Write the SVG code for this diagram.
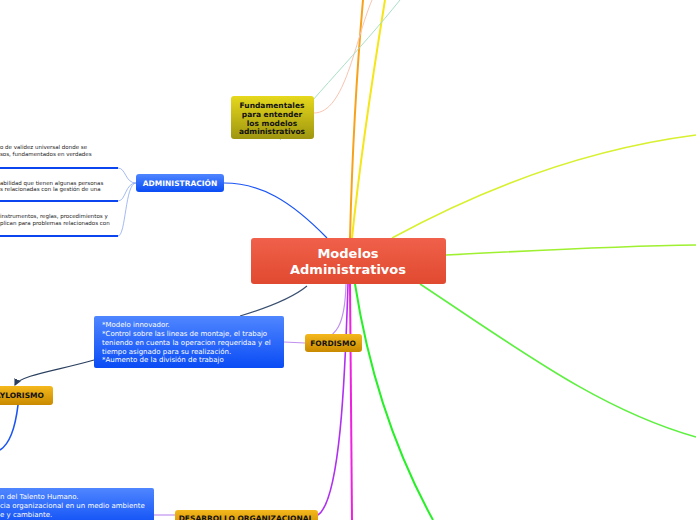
<svg xmlns="http://www.w3.org/2000/svg" width="696" height="520" viewBox="0 0 696 520">
<defs>
<linearGradient id="gr" x1="0" y1="0" x2="0" y2="1"><stop offset="0" stop-color="#f0604a"/><stop offset="1" stop-color="#e04a30"/></linearGradient>
<linearGradient id="gb" x1="0" y1="0" x2="0" y2="1"><stop offset="0" stop-color="#4f86ff"/><stop offset="1" stop-color="#0a4cf5"/></linearGradient>
<linearGradient id="go" x1="0" y1="0" x2="0" y2="1"><stop offset="0" stop-color="#f5b81c"/><stop offset="1" stop-color="#c98a00"/></linearGradient>
<linearGradient id="gy" x1="0" y1="0" x2="0" y2="1"><stop offset="0" stop-color="#e6d81c"/><stop offset="1" stop-color="#9e9610"/></linearGradient>
<marker id="ar" markerWidth="6" markerHeight="6" refX="5" refY="3" orient="auto"><path d="M0,0 L6,3 L0,6 z" fill="#2a3f5f"/></marker>
</defs>
<style>
text{font-family:"DejaVu Sans",Verdana,sans-serif}
.t{font-size:7.5px;font-weight:bold;fill:#111;text-anchor:middle}
.w{font-size:7px;fill:#fff}
.s{font-size:5.5px;fill:#222}
.c{fill:none}
</style>
<rect width="696" height="520" fill="#fff"/>
<g id="connectors" class="c">
<path d="M350,238 C352,160 356,80 363,0" stroke="#f7a21c" stroke-width="2"/>
<path d="M352,238 C360,160 372,80 385,0" stroke="#f5e619" stroke-width="2"/>
<path d="M314,113 C345,113 355,40 372,0" stroke="#f9c4b0" stroke-width="1"/>
<path d="M280,140 C310,100 360,50 400,0" stroke="#a8e0c4" stroke-width="1"/>
<path d="M392,238 C480,190 580,150 696,135" stroke="#d8f030" stroke-width="1.6"/>
<path d="M446,255 C540,250 620,246 696,245" stroke="#9ef030" stroke-width="1.6"/>
<path d="M420,284 C520,350 600,410 696,437" stroke="#5ef040" stroke-width="1.6"/>
<path d="M355,284 C370,380 400,460 433,520" stroke="#28f028" stroke-width="2"/>
<path d="M350,284 C350,360 352,440 352,520" stroke="#f020e0" stroke-width="2"/>
<path d="M348,284 C345,380 340,500 318,515" stroke="#b030f0" stroke-width="1.6"/>
<path d="M346,284 C345,320 340,343 305,343 L284,342" stroke="#c090f0" stroke-width="1.2"/>
<path d="M307,286 C290,300 260,310 240,316" stroke="#3a4f70" stroke-width="1.2"/>
<path d="M94,360 C60,370 20,375 15,385" stroke="#2a3f5f" stroke-width="1.2" marker-end="url(#ar)"/>
<path d="M327,238 C290,200 260,183 224,183" stroke="#1a55f5" stroke-width="1.2"/>
<path d="M18,405 C15,430 8,445 0,450" stroke="#1a55f5" stroke-width="1.6"/>
<path d="M136,183 C125,183 126,168 118,168 M136,183 C125,183 126,201 118,201 M136,183 C125,183 126,236 118,236" stroke="#8aa8f0" stroke-width="0.8"/>
<path d="M0,168 H118 M0,201 H118 M0,236 H118" stroke="#0a45f0" stroke-width="2.2"/>
<path d="M154,515 H175" stroke="#c090f0" stroke-width="1.2"/>
</g>
<g id="center"><rect x="251" y="238" width="195" height="46" rx="3" fill="url(#gr)"/>
<text x="348" y="258" font-size="13" font-weight="bold" fill="#fff" text-anchor="middle">Modelos</text>
<text x="348" y="274" font-size="13" font-weight="bold" fill="#fff" text-anchor="middle">Administrativos</text></g>
<g id="fundamentales"><rect x="231" y="96" width="83" height="43" rx="3" fill="url(#gy)"/>
<text class="t" x="272" y="108">Fundamentales</text><text class="t" x="272" y="117">para entender</text><text class="t" x="272" y="126">los modelos</text><text class="t" x="272" y="134">administrativos</text></g>
<g id="administracion"><rect x="136" y="174" width="88" height="18" rx="3" fill="url(#gb)"/>
<text x="180" y="186" font-size="7.5" font-weight="bold" fill="#fff" text-anchor="middle">ADMINISTRACIÓN</text></g>
<g id="adm-texts">
<text class="s" x="0" y="149">o de validez universal donde se</text>
<text class="s" x="0" y="156">sos, fundamentados en verdades</text>
<text class="s" x="0" y="185">abilidad que tienen algunas personas</text>
<text class="s" x="0" y="191">s relacionadas con la gestión de una</text>
<text class="s" x="0" y="218">instrumentos, reglas, procedimientos y</text>
<text class="s" x="0" y="225">plican para problemas relacionados con</text>
</g>
<g id="fordismo-info"><rect x="94" y="316" width="190" height="52" rx="2" fill="url(#gb)"/>
<text class="w" x="102" y="327">*Modelo innovador.</text>
<text class="w" x="102" y="336">*Control sobre las lineas de montaje, el trabajo</text>
<text class="w" x="102" y="345">teniendo en cuenta la operacion requeridaa y el</text>
<text class="w" x="102" y="354">tiempo asignado para su realización.</text>
<text class="w" x="102" y="362">*Aumento de la división de trabajo</text></g>
<g id="fordismo"><rect x="305" y="334" width="57" height="18" rx="3" fill="url(#go)"/><text class="t" x="333" y="346">FORDISMO</text></g>
<g id="taylorismo"><rect x="-20" y="386" width="73" height="19" rx="3" fill="url(#go)"/><text class="t" x="17" y="398">TAYLORISMO</text></g>
<g id="desarrollo-info"><rect x="-10" y="488" width="164" height="40" rx="2" fill="url(#gb)"/>
<text class="w" x="0" y="499">n del Talento Humano.</text>
<text class="w" x="0" y="508">cia organizacional en un medio ambiente</text>
<text class="w" x="0" y="517">e y cambiante.</text></g>
<g id="desarrollo"><rect x="175" y="510" width="143" height="18" rx="3" fill="url(#go)"/><text class="t" x="246" y="521">DESARROLLO ORGANIZACIONAL</text></g>
</svg>
